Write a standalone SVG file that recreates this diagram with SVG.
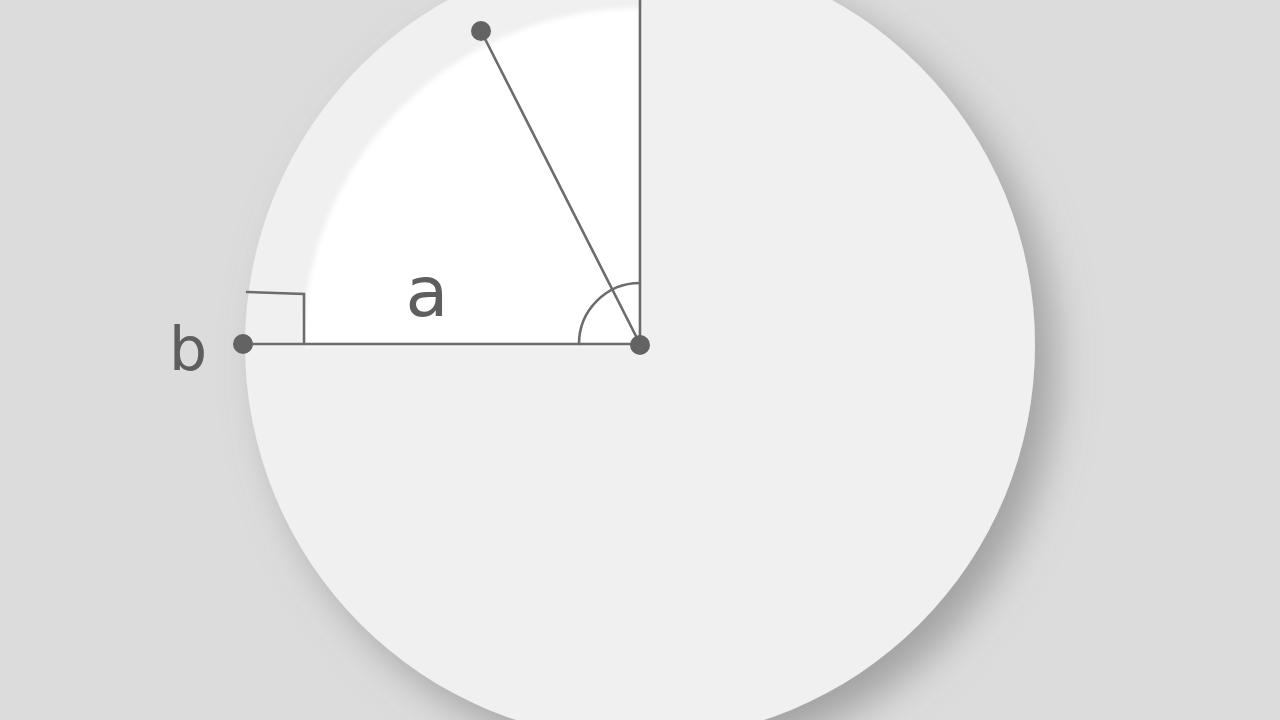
<svg xmlns="http://www.w3.org/2000/svg" width="1280" height="720" viewBox="0 0 1280 720">
<style>
.ln{stroke:#6c6c6c;stroke-width:2.6;fill:none;stroke-linecap:round}
.dot{fill:#636363}
.lbl{font-family:"DejaVu Sans",sans-serif;fill:#5e5e5e;text-anchor:middle}
</style>
<defs>
<filter id="sh" x="-20%" y="-20%" width="150%" height="150%">
<feDropShadow dx="20" dy="20" stdDeviation="20" flood-color="#7a7a7a" flood-opacity="0.6"/>
</filter>
<filter id="soft" x="-5%" y="-5%" width="110%" height="110%">
<feGaussianBlur stdDeviation="2.5"/>
</filter>
</defs>
<rect width="1280" height="720" fill="#dcdcdc"/>
<g id="plate">
<circle cx="640" cy="345" r="395" fill="#f0f0f0" filter="url(#sh)"/>
</g>
<g id="sector">
<path d="M640 345 L303 345 A337 337 0 0 1 640 8 Z" fill="#ffffff" filter="url(#soft)"/>
</g>
<g id="connectors">
<line class="ln" x1="243" y1="344" x2="640" y2="344"/>
<line class="ln" x1="640" y1="344" x2="640" y2="-5"/>
<line class="ln" x1="640" y1="344" x2="481" y2="31"/>
<path class="ln" d="M247 292 L304 294 L304 344"/>
<path class="ln" d="M579 344 A61 61 0 0 1 640 283"/>
</g>
<g id="point-b"><circle class="dot" cx="243" cy="344" r="10"/></g>
<g id="point-center"><circle class="dot" cx="640" cy="345" r="10"/></g>
<g id="point-top"><circle class="dot" cx="481" cy="31" r="10"/></g>
<g id="label-a"><text class="lbl" x="427" y="316" font-size="70">a</text></g>
<g id="label-b"><text class="lbl" x="188" y="370" font-size="60">b</text></g>
</svg>
